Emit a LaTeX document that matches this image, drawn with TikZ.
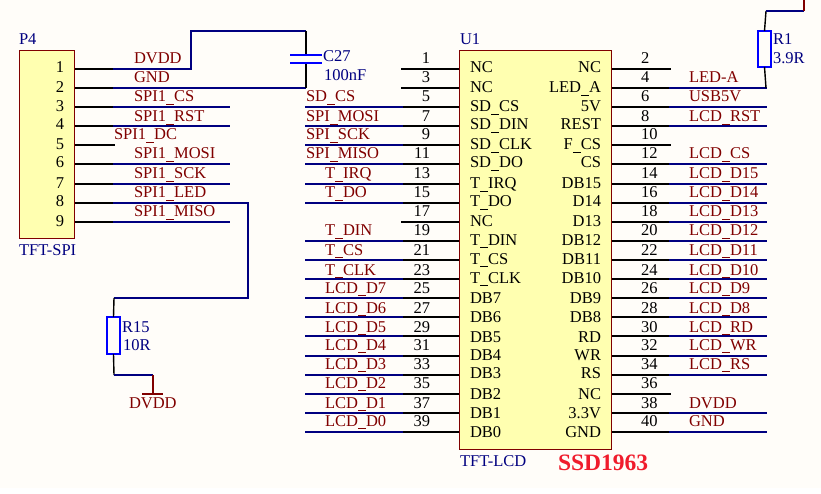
\documentclass[tikz,border=0pt]{standalone}
\usepackage{fontspec}
\setmainfont{Liberation Serif}
\newcommand{\us}{\rule[-3pt]{8pt}{1pt}}
\newcommand{\txt}{\fontsize{16.5}{18}\selectfont}
\definecolor{paper}{HTML}{FFFDF9}
\definecolor{bodyfill}{HTML}{FFFFB0}
\definecolor{netred}{HTML}{800000}
\definecolor{wirenavy}{HTML}{000080}
\definecolor{partblue}{HTML}{0000FF}
\definecolor{titlered}{HTML}{F01C2C}
\tikzset{
  x=1pt,y=-1pt,
  every node/.style={inner sep=0pt,outer sep=0pt,font=\txt},
  lbl/.style={anchor=base west},
  lblr/.style={anchor=base east},
  netlabel/.style={lbl,text=netred},
  netlabelr/.style={lblr,text=netred},
  reflabel/.style={lbl,text=wirenavy},
  pinname/.style={text=black},
  pinwire/.style={draw=black,line width=1.4pt},
  netwire/.style={draw=wirenavy,line width=1.4pt},
  powerwire/.style={draw=netred,line width=1.4pt},
  partbody/.style={draw=netred,line width=1pt,fill=bodyfill},
  partline/.style={draw=partblue,line width=1.5pt},
}
\begin{document}
\begin{tikzpicture}
\useasboundingbox (0,0) rectangle (821,494);
\fill[white] (0,0) rectangle (821,494);
\fill[paper] (0,0) rectangle (821,488);

% part bodies
\node[partbody,minimum width=55pt,minimum height=188pt,anchor=north west] (P4) at (19.5,51) {};
\node[partbody,minimum width=152pt,minimum height=398pt,anchor=north west] (U1) at (459.5,51) {};
\node[reflabel] (P4ref) at (19,45) {P4};
\node[reflabel] (P4val) at (19,255) {TFT-SPI};
\node[reflabel] (U1ref) at (460,45) {U1};
\node[reflabel] (U1val) at (460,466) {TFT-LCD};
\node[lbl,text=titlered,font=\fontsize{23.5}{26}\selectfont\bfseries] (title) at (558,470) {SSD1963};

% U1 pins
\foreach \n/\y/\b/\t/\lname/\lx/\lnet/\rname/\rnet in {
 1/69/64/73/NC/306//NC/,
 2/88/83/93/NC/306//LED\us A/LED-A,
 3/107/102/112/SD\us CS/306/SD\us CS/5V/USB5V,
 4/126/122/130/SD\us DIN/306/SPI\us MOSI/REST/LCD\us RST,
 5/145/140/150/SD\us CLK/306/SPI\us SCK/F\us CS/,
 6/164/159/168/SD\us DO/306/SPI\us MISO/CS/LCD\us CS,
 7/184/179/189/T\us IRQ/325/T\us IRQ/DB15/LCD\us D15,
 8/203/198/207/T\us DO/325/T\us DO/D14/LCD\us D14,
 9/222/217/226/NC/325//D13/LCD\us D13,
 10/241/236/245/T\us DIN/325/T\us DIN/DB12/LCD\us D12,
 11/260/255/264/T\us CS/325/T\us CS/DB11/LCD\us D11,
 12/279/275/283/T\us CLK/325/T\us CLK/DB10/LCD\us D10,
 13/298/293/303/DB7/325/LCD\us D7/DB9/LCD\us D9,
 14/317/313/322/DB6/325/LCD\us D6/DB8/LCD\us D8,
 15/336/332/342/DB5/325/LCD\us D5/RD/LCD\us RD,
 16/356/350/360/DB4/325/LCD\us D4/WR/LCD\us WR,
 17/375/369/378/DB3/325/LCD\us D3/RS/LCD\us RS,
 18/394/388/399/DB2/325/LCD\us D2/NC/,
 19/413/408/418/DB1/325/LCD\us D1/3.3V/DVDD,
 20/432/426/437/DB0/325/LCD\us D0/GND/GND}{
  \pgfmathtruncatemacro{\odd}{2*\n-1}
  \pgfmathtruncatemacro{\even}{2*\n}
  \coordinate (ul\n) at (459,\y);
  \coordinate (ur\n) at (612,\y);
  \node[lblr] (un\odd) at (430,\b) {\odd};
  \node[lbl] (un\even) at (641,\b) {\even};
  \node[lbl,pinname] (uln\n) at (470,\t) {\lname};
  \node[lblr,pinname] (urn\n) at (601,\t) {\rname};
  \ifx\lnet\empty
    \coordinate (ule\n) at (401,\y);
    \draw[pinwire] (ul\n) -- (ule\n);
  \else
    \coordinate (ulm\n) at (403,\y);
    \coordinate (ule\n) at (305,\y);
    \node[netlabel] (ulnet\n) at (\lx,\b) {\lnet};
    \draw[pinwire] (ul\n) -- (ulm\n);
    \draw[netwire] (ulm\n) -- (ule\n);
  \fi
  \ifx\rnet\empty
    \coordinate (ure\n) at (671,\y);
    \draw[pinwire] (ur\n) -- (ure\n);
  \else
    \coordinate (urm\n) at (669,\y);
    \coordinate (ure\n) at (767,\y);
    \node[netlabel] (urnet\n) at (689,\b) {\rnet};
    \draw[pinwire] (ur\n) -- (urm\n);
    \draw[netwire] (urm\n) -- (ure\n);
  \fi
}

% P4 pins
\foreach \n/\y/\b/\t/\lx/\lnet in {
 1/69/64/73/134/DVDD,
 2/88/83/93/134/GND,
 3/107/102/112/134/SPI1\us CS,
 4/126/122/130/134/SPI1\us RST,
 5/145/140/150/114/SPI1\us DC,
 6/164/159/168/134/SPI1\us MOSI,
 7/184/179/189/134/SPI1\us SCK,
 8/203/198/207/134/SPI1\us LED,
 9/222/217/226/134/SPI1\us MISO}{
  \coordinate (pa\n) at (75,\y);
  \coordinate (pb\n) at (113,\y);
  \coordinate (pc\n) at (230,\y);
  \node[lblr,pinname] (pnum\n) at (64,\t) {\n};
  \node[netlabel] (pnet\n) at (\lx,\b) {\lnet};
}
\coordinate (pb5x) at (115,145);
\foreach \n in {1,2,3,4,6,7,8,9}{\draw[pinwire] (pa\n) -- (pb\n);}
\draw[pinwire] (pa5) -- (pb5x);
\foreach \n in {3,4,6,7,9}{\draw[netwire] (pb\n) -- (pc\n);}

% C27
\coordinate (dv1) at (191,69);
\coordinate (dv2) at (191,31);
\coordinate (ctop) at (306,31);
\coordinate (cbot) at (306,88);
\coordinate (c1) at (306,55);
\coordinate (c2) at (306,63);
\coordinate (c1l) at (290,55);
\coordinate (c1r) at (322,55);
\coordinate (c2l) at (290,63);
\coordinate (c2r) at (322,63);
\draw[netwire] (pb1) -- (dv1) -- (dv2) -- (ctop);
\draw[netwire] (pb2) -- (cbot);
\draw[pinwire] (ctop) -- (c1);
\draw[pinwire] (c2) -- (cbot);
\draw[partline] (c1l) -- (c1r);
\draw[partline] (c2l) -- (c2r);
\node[reflabel] (c27ref) at (323,62) {C27};
\node[reflabel] (c27val) at (324,81) {100nF};

% R15
\node[draw=partblue,line width=1.5pt,fill=paper,minimum width=13pt,minimum height=37pt,anchor=north west] (r15) at (107,317) {};
\coordinate (w1) at (248,203);
\coordinate (w2) at (248,298);
\coordinate (w3) at (114,298);
\coordinate (w4) at (114,375);
\coordinate (w5) at (153,375);
\coordinate (w6) at (153,394);
\coordinate (barl) at (142,394);
\coordinate (barr) at (163,394);
\draw[netwire] (pb8) -- (w1) -- (w2) -- (w3);
\draw[pinwire] (w3) -- (r15.north);
\draw[pinwire] (r15.south) -- (w4);
\draw[netwire] (w4) -- (w5);
\draw[powerwire] (w5) -- (w6);
\draw[powerwire] (barl) -- (barr);
\node[reflabel] (r15ref) at (122,332) {R15};
\node[reflabel] (r15val) at (123,350) {10R};
\node[netlabel] (dvddb) at (129,408) {DVDD};

% R1
\node[draw=partblue,line width=1.5pt,fill=paper,minimum width=13pt,minimum height=36pt,anchor=north west] (r1) at (758,31) {};
\coordinate (led) at (766,88);
\coordinate (t1) at (766,11);
\coordinate (t2) at (804,11);
\coordinate (t3) at (804,0);
\draw[pinwire] (led) -- (r1.south);
\draw[pinwire] (r1.north) -- (t1);
\draw[netwire] (t1) -- (t2);
\draw[powerwire] (t2) -- (t3);
\node[reflabel] (r1ref) at (773,45) {R1};
\node[reflabel] (r1val) at (773,64) {3.9R};
\end{tikzpicture}
\end{document}
